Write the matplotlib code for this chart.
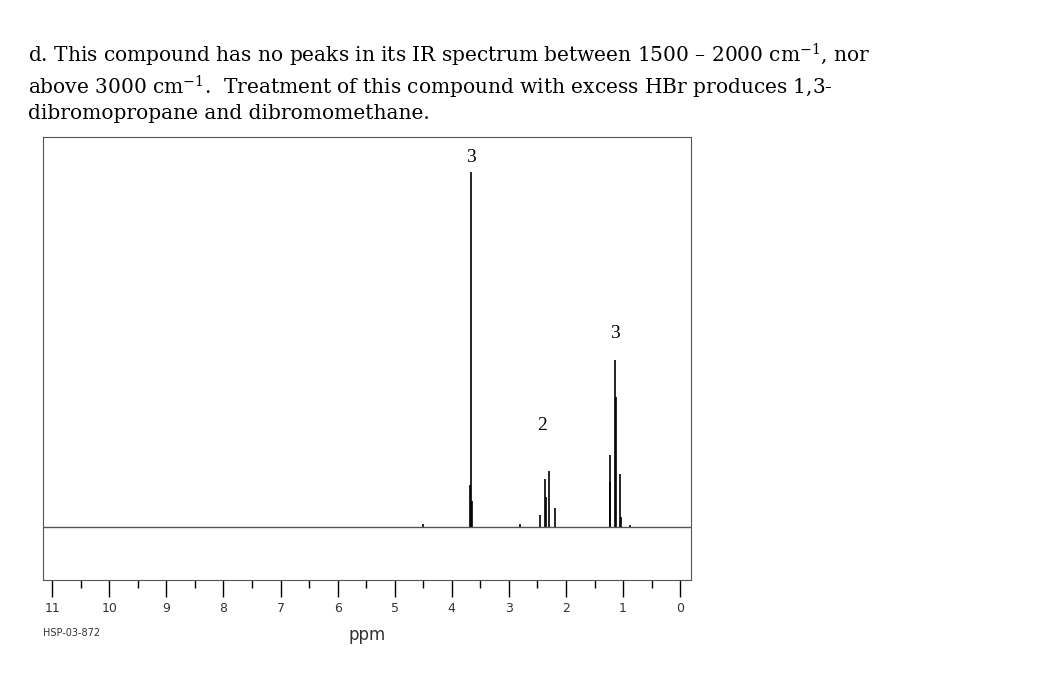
import matplotlib
matplotlib.use("Agg")
import matplotlib.pyplot as plt

# stick spectrum: shift (ppm) and line height above baseline (arbitrary units)
shifts = [4.50, 3.68, 3.66, 3.64, 2.80,
          2.46, 2.37, 2.35, 2.29, 2.20,
          1.23, 1.22, 1.14, 1.13, 1.05, 1.04, 0.88]
heights = [3, 42, 355, 26, 3,
           12, 48, 30, 56, 19,
           72, 45, 167, 130, 53, 10, 2]

integrals = ["3", "2", "3"]
integral_pos = [3.66, 2.42, 1.14]
integral_y = [370, 102, 194]

ticks_major = list(range(0, 12))

plt.rcParams["mathtext.fontset"] = "custom"
plt.rcParams["mathtext.rm"] = "DejaVu Serif"

fig = plt.figure(figsize=(10.46, 6.8), dpi=100)
ax = fig.add_axes([43 / 1046, 100 / 680, 648 / 1046, 443 / 680])

ax.vlines(shifts, 0, heights, color="black", lw=1.2)
ax.axhline(0, color="#555555", lw=1)
for lab, x, y in zip(integrals, integral_pos, integral_y):
    ax.text(x, y, lab, ha="center", va="center", family="Liberation Serif", fontsize=14)

ax.set_xlim(11.16, -0.19)
ax.set_ylim(-53, 390)
ax.set_yticks([])
ax.set_xticks(ticks_major)
ax.set_xticks([t + 0.5 for t in range(0, 11)], minor=True)
ax.tick_params(axis="x", which="major", length=12, width=1, direction="out",
               labelsize=9, labelcolor="#333333", pad=4)
ax.tick_params(axis="x", which="minor", length=6, width=1, direction="out")
for s in ax.spines.values():
    s.set_color("#555555")
ax.set_xlabel("ppm", fontsize=12, color="#333333", labelpad=8)

fig.text(43 / 1046, 1 - 633 / 680, "HSP-03-872", fontsize=7, color="#333333", va="center")

title = ("d. This compound has no peaks in its IR spectrum between 1500 \u2013 2000 cm$^{\\mathregular{-1}}$, nor\n"
         "above 3000 cm$^{\\mathregular{-1}}$.  Treatment of this compound with excess HBr produces 1,3-\n"
         "dibromopropane and dibromomethane.")
fig.text(28 / 1046, 1 - 42 / 680, title, family="DejaVu Serif", fontsize=14.5,
         va="top", ha="left", linespacing=1.2)

fig.savefig("out.png", dpi=100)
